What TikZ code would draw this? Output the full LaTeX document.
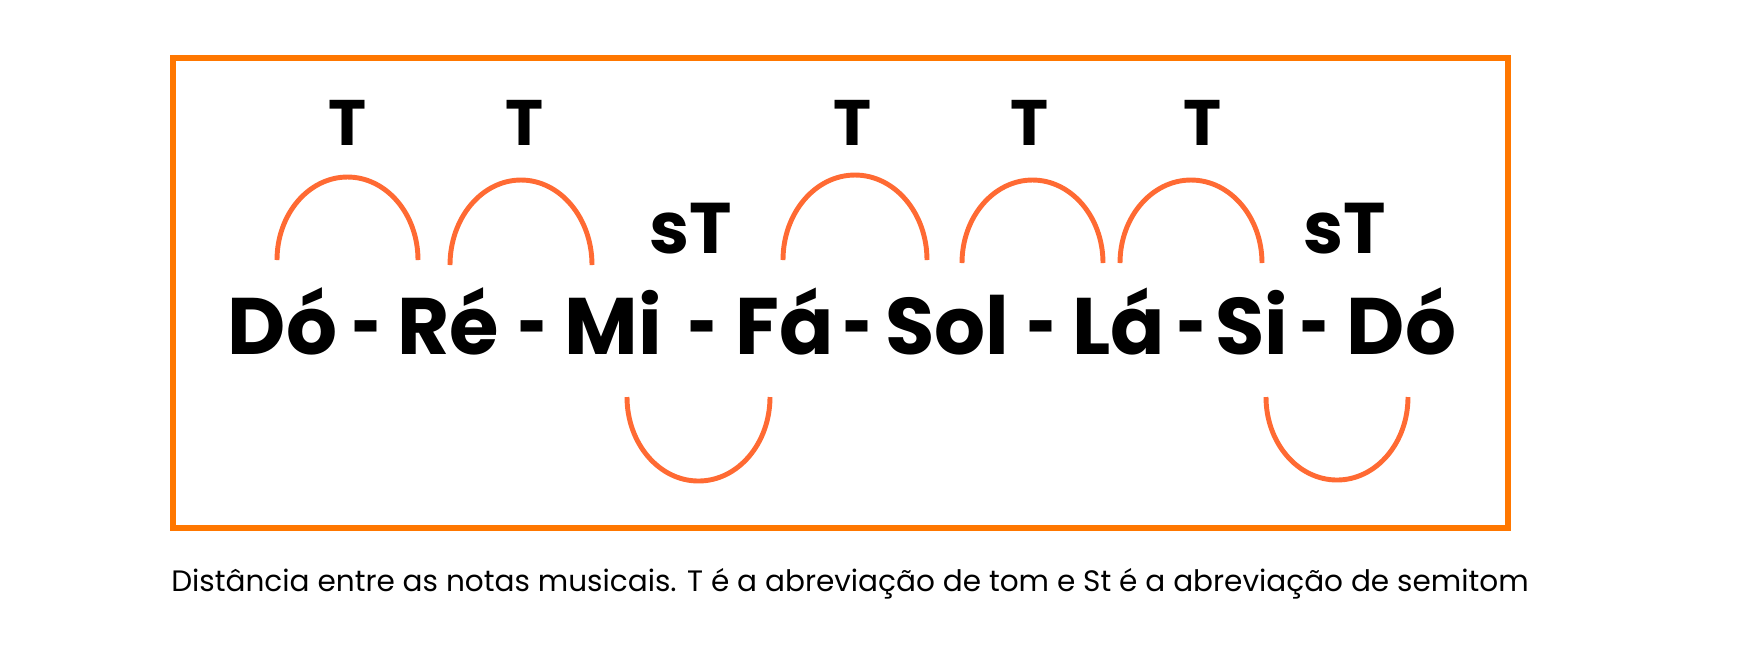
\documentclass[tikz,border=0pt]{standalone}
\usepackage{fontspec}
\setmainfont{Poppins}
\usepackage{graphicx}
\usepackage{tikz}
\usetikzlibrary{positioning}

\definecolor{boxorange}{HTML}{FF7700}
\definecolor{humporange}{HTML}{FF6A33}

\tikzset{
	note/.style={font=\fontsize{22.8}{24}\selectfont\bfseries, anchor=base, inner sep=0pt},
	tone/.style={font=\fontsize{18.3}{20}\selectfont\bfseries, anchor=base, inner sep=0pt},
	semi/.style={font=\fontsize{20.4}{22}\selectfont\bfseries, anchor=base, inner sep=0pt},
	hump/.style={draw=humporange, line width=1.4pt},
	legend/.style={font=\fontsize{8.4}{10}\selectfont, anchor=base, inner sep=0pt}
}
\newcommand{\hifen}{\scalebox{0.62}[1]{-}}

\begin{document}
\begin{tikzpicture}[x=0.01cm, y=-0.01cm]
		\useasboundingbox (0,0) rectangle (1742,650);
		\draw[boxorange, line width=1.85pt] (173,58) rectangle (1508,528);
		
		% notas
		\node[note] (do1) at (282.5,354) {Dó};
		\node[note] (h1) at (367,354) {\hifen};
		\node[note] (re) at (448.5,354) {Ré};
		\node[note] (h2) at (533,354) {\hifen};
		\node[note] (mi) at (613.5,354) {Mi};
		\node[note] (h3) at (703,354) {\hifen};
		\node[note] (fa) at (784.5,354) {Fá};
		\node[note] (h4) at (858,354) {\hifen};
		\node[note] (sol) at (947.5,354) {Sol};
		\node[note] (h5) at (1042,354) {\hifen};
		\node[note] (la) at (1118.5,354) {Lá};
		\node[note] (h6) at (1192,354) {\hifen};
		\node[note] (si) at (1251.5,354) {Si};
		\node[note] (h7) at (1315,354) {\hifen};
		\node[note] (do2) at (1401.5,354) {Dó};
		
		% tons
		\node[tone] (t1) at (348,145) {T};
		\node[tone] (t2) at (525,145) {T};
		\node[tone] (t3) at (853,145) {T};
		\node[tone] (t4) at (1030,145) {T};
		\node[tone] (t5) at (1203,145) {T};
		\node[semi] (st1) at (691,253) {sT};
		\node[semi] (st2) at (1345,253) {sT};
		
		% arcos
		\coordinate (a1) at (277,260);
		\coordinate (a2) at (450,265);
		\coordinate (a3) at (783,260);
		\coordinate (a4) at (962,263);
		\coordinate (a5) at (1120,263);
		\coordinate (b1) at (627,397);
		\coordinate (b2) at (1266,397);
		\draw[hump] (a1) arc[start angle=180, end angle=360, x radius=70.5, y radius=83];
		\draw[hump] (a2) arc[start angle=180, end angle=360, x radius=71, y radius=85];
		\draw[hump] (a3) arc[start angle=180, end angle=360, x radius=72, y radius=85];
		\draw[hump] (a4) arc[start angle=180, end angle=360, x radius=70.5, y radius=83];
		\draw[hump] (a5) arc[start angle=180, end angle=360, x radius=71, y radius=83];
		\draw[hump] (b1) arc[start angle=180, end angle=0, x radius=71.5, y radius=84];
		\draw[hump] (b2) arc[start angle=180, end angle=0, x radius=71, y radius=83];
		
		\node[legend] (caption) at (850,591) {Distância entre as notas musicais. T é a abreviação de tom e St é a abreviação de semitom};
	\end{tikzpicture}
\end{document}
